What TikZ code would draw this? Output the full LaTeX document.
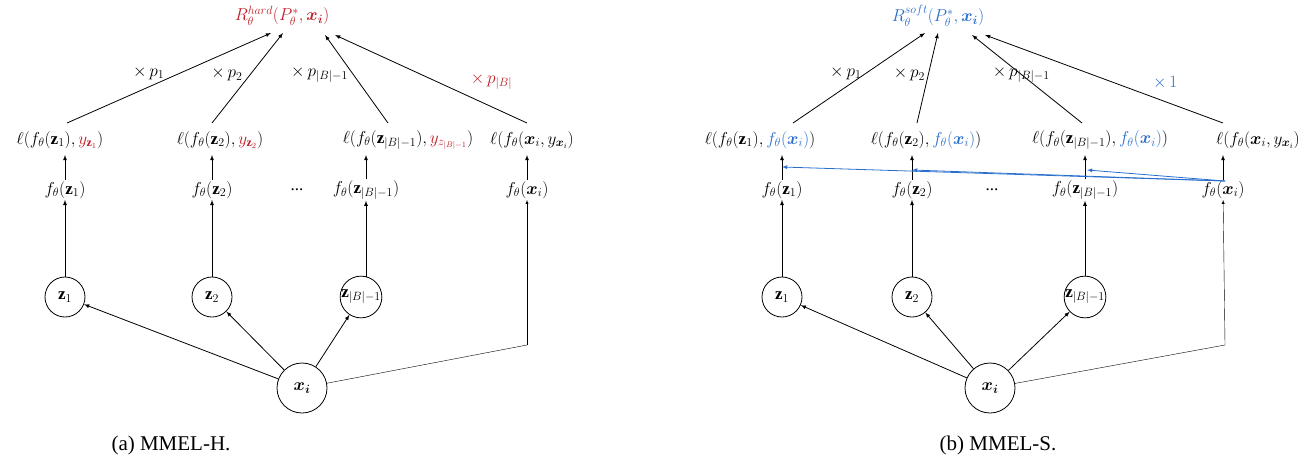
\documentclass[tikz,border=0pt]{standalone}
\usepackage{amsmath,amssymb}
\usepackage{fontspec}
\setmainfont{Liberation Serif}
\definecolor{rd}{RGB}{192,30,40}
\definecolor{bl}{RGB}{40,110,205}
\begin{document}
\begin{tikzpicture}[x=1pt,y=-1pt,
  t/.style={inner sep=1pt,font=\fontsize{17}{19}\selectfont},
  c/.style={circle,draw,thick,minimum size=40pt,inner sep=0pt,font=\fontsize{17}{19}\selectfont},
  a/.style={-latex,thick},
  ab/.style={-latex,bl,thick},
  thinl/.style={thin}]
\useasboundingbox (0,0) rectangle (1316,463);
\newcommand{\zb}{\mathbf{z}}
\newcommand{\xb}{\boldsymbol{x}}
% ---------- left ----------
\node[t,text=rd] (R) at (282,16) {$R_\theta^{hard}(P_\theta^*,\xb_{\boldsymbol{i}})$};
\node[t] (l1) at (60,140) {$\ell(f_\theta(\zb_1),\textcolor{rd}{y_{\zb_1}})$};
\node[t] (l2) at (220,140) {$\ell(f_\theta(\zb_2),\textcolor{rd}{y_{\zb_2}})$};
\node[t] (l3) at (408,140) {$\ell(f_\theta(\zb_{|B|-1}),\textcolor{rd}{y_{z_{|B|-1}}})$};
\node[t] (l4) at (532,140) {$\ell(f_\theta(\xb_i,y_{\xb_i})$};
\node[t] (f1) at (65,190) {$f_\theta(\zb_1)$};
\node[t] (f2) at (212,190) {$f_\theta(\zb_2)$};
\node[t] (d) at (297,190) {...};
\node[t] (f3) at (366,190) {$f_\theta(\zb_{|B|-1})$};
\node[t] (f4) at (527,190) {$f_\theta(\xb_i)$};
\node[c] (c1) at (65,297) {$\zb_1$};
\node[c] (c2) at (212,297) {$\zb_2$};
\node[c] (c3) at (361,297) {$\zb_{|B|-1}$};
\node[c,minimum size=50pt] (x) at (302,388) {$\xb_{\boldsymbol{i}}$};
\coordinate (k) at (527,345);
\draw[a] (c1) -- (f1); \draw[a] (c2) -- (f2); \draw[a] (366,277) -- (f3);
\draw[a] (x) -- (c1); \draw[a] (x) -- (c2); \draw[a] (x) -- (c3);
\draw[thinl] (x) -- (k); \draw[a,thinl] (k) -- (f4);
\draw[a] (f1) -- (65,155); \draw[a] (f2) -- (212,155); \draw[a] (f3) -- (366,155); \draw[a] (f4) -- (527,155);
\coordinate (r1) at (271,33); \coordinate (r2) at (283,33);
\coordinate (r3) at (325,35); \coordinate (r4) at (335,35);
\draw[a] (67,123) -- (r1) node[pos=0.4,above,yshift=6pt,t] {$\times\,p_1$};
\draw[a] (212,123) -- (r2) node[pos=0.45,anchor=south east,t] {$\times\,p_2$};
\draw[a] (388,123) -- (r3) node[pos=0.55,anchor=east,xshift=-4pt,t] {$\times\,p_{|B|-1}$};
\draw[a] (527,123) -- (r4) node[pos=0.3,anchor=south west,yshift=6pt,t,text=rd] {$\times\,p_{|B|}$};
% ---------- right ----------
\node[t,text=bl] (Rs) at (938,16) {$R_\theta^{soft}(P_\theta^*,\xb_{\boldsymbol{i}})$};
\node[t] (m1) at (760,140) {$\ell(f_\theta(\zb_1),\textcolor{bl}{f_\theta(\xb_i)})$};
\node[t] (m2) at (926,140) {$\ell(f_\theta(\zb_2),\textcolor{bl}{f_\theta(\xb_i)})$};
\node[t] (m3) at (1100,140) {$\ell(f_\theta(\zb_{|B|-1}),\textcolor{bl}{f_\theta(\xb_i)})$};
\node[t] (m4) at (1258,140) {$\ell(f_\theta(\xb_i,y_{\xb_i})$};
\node[t] (g1) at (782,190) {$f_\theta(\zb_1)$};
\node[t] (g2) at (912,190) {$f_\theta(\zb_2)$};
\node[t] (e) at (992,190) {...};
\node[t] (g3) at (1085,190) {$f_\theta(\zb_{|B|-1})$};
\node[t] (g4) at (1223,190) {$f_\theta(\xb_i)$};
\node[c] (d1) at (782,297) {$\zb_1$};
\node[c] (d2) at (912,297) {$\zb_2$};
\node[c] (d3) at (1085,297) {$\zb_{|B|-1}$};
\node[c,minimum size=50pt] (y) at (990,388) {$\xb_{\boldsymbol{i}}$};
\coordinate (k2) at (1225,345);
\draw[a] (d1) -- (g1); \draw[a] (d2) -- (g2); \draw[a] (d3) -- (g3);
\draw[a] (y) -- (d1); \draw[a] (y) -- (d2); \draw[a] (y) -- (d3);
\draw[thinl] (y) -- (k2); \draw[a,thinl] (k2) -- (g4);
\draw[a] (g1) -- (782,155); \draw[a] (g2) -- (912,155); \draw[a] (g3) -- (1085,155); \draw[a] (g4) -- (1223,155);
\coordinate (s) at (1225,181);
\draw[ab] (s) -- (782,167); \draw[ab] (s) -- (912,170); \draw[ab] (s) -- (1087,170);
\coordinate (s1) at (925,33); \coordinate (s2) at (938,33);
\coordinate (s3) at (972,35); \coordinate (s4) at (985,35);
\draw[a] (793,123) -- (s1) node[pos=0.4,above,yshift=6pt,t] {$\times\,p_1$};
\draw[a] (917,123) -- (s2) node[pos=0.45,anchor=south east,t] {$\times\,p_2$};
\draw[a] (1082,123) -- (s3) node[pos=0.55,anchor=west,xshift=-30pt,yshift=0pt,t] {$\times\,p_{|B|-1}$};
\draw[a] (1223,123) -- (s4) node[pos=0.3,anchor=south west,yshift=6pt,t,text=bl] {$\times\,1$};
% captions
\node[font=\fontsize{21}{24}\selectfont] (ca) at (171,445) {(a) MMEL-H.};
\node[font=\fontsize{21}{24}\selectfont] (cb) at (998,445) {(b) MMEL-S.};
\end{tikzpicture}
\end{document}
